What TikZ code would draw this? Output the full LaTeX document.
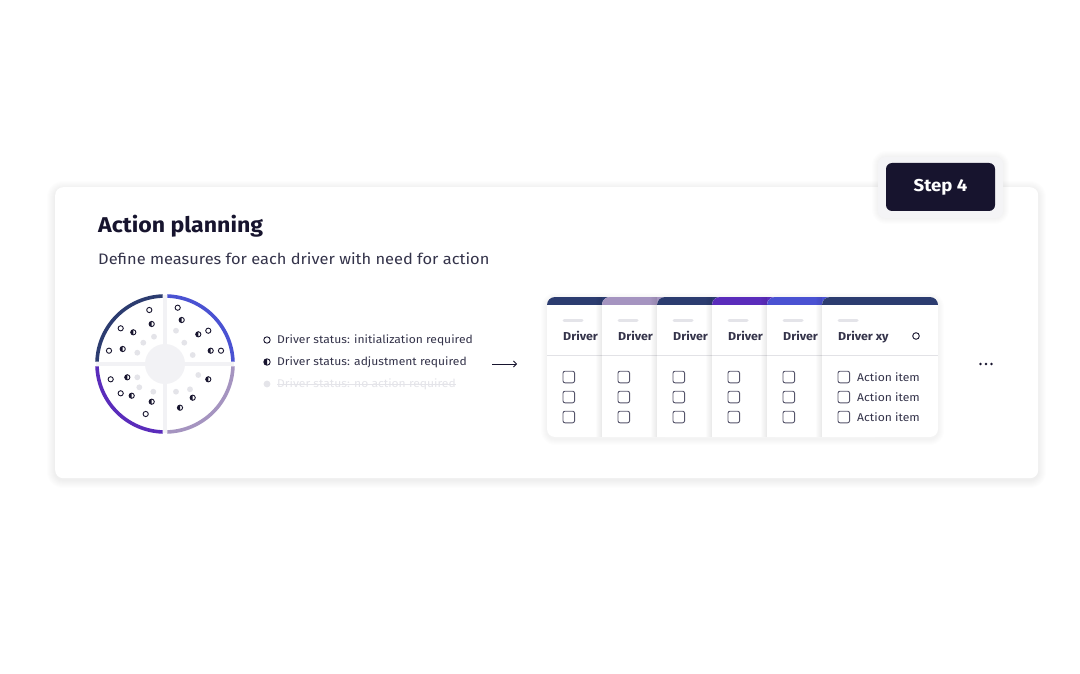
\documentclass[tikz,border=0pt]{standalone}
\usepackage{fontspec}
\setmainfont{Fira Sans}[FakeStretch=1.08]
\usetikzlibrary{fadings,arrows.meta}
\definecolor{navy}{HTML}{2C3C70}
\definecolor{ink}{HTML}{17142E}
\definecolor{lav}{HTML}{A594C0}
\definecolor{purp}{HTML}{5A2CBB}
\definecolor{blu}{HTML}{4A52D2}
\definecolor{txt}{HTML}{34334A}
\definecolor{boxc}{HTML}{55546A}
\definecolor{lgrey}{HTML}{F2F2F5}
\definecolor{dotg}{HTML}{E4E4E9}
\definecolor{divg}{HTML}{E2E2E6}
\definecolor{badgebg}{HTML}{F4F4F6}
\tikzfading[name=fadeleft, left color=transparent!100, right color=transparent!0]
\tikzset{
  opendot/.style={draw=ink, line width=0.9pt, fill=white},
  greydot/.style={fill=dotg},
  cbox/.style={draw=boxc, line width=0.9pt, rounded corners=2pt},
  drv/.style={font=\fontsize{11.5}{12}\selectfont\bfseries, text=txt, inner sep=0pt, anchor=base west},
  legtxt/.style={font=\fontsize{11.2}{12}\selectfont, text=txt, inner sep=0pt, anchor=west},
  itemtxt/.style={font=\fontsize{11.25}{12}\selectfont, text=txt, inner sep=0pt, anchor=west},
}
\newcommand{\halfdot}[3]{%
  \fill[white] (#1,#2) circle (#3);
  \fill[ink] (#1,#2) ++(0,-#3) arc[start angle=270, end angle=90, radius=#3] -- cycle;
  \draw[ink, line width=0.9pt] (#1,#2) circle (#3);}
\begin{document}
\begin{tikzpicture}[x=1pt,y=-1pt]
\useasboundingbox (0,0) rectangle (1080,674);
\fill[white] (0,0) rectangle (1080,674);
% main card shadow
\foreach \s in {1,...,8}
  \fill[black, opacity=0.008, rounded corners=8+\s] (55-\s,187-\s+2) rectangle (1038+\s,478+\s+2);
\node (card) [fill=white, rounded corners=8pt, minimum width=983pt, minimum height=291pt, anchor=north west, inner sep=0pt] at (55,187) {};
% step badge
\foreach \s in {1,...,6}
  \fill[black, opacity=0.008, rounded corners=8+\s] (878-\s,157-\s) rectangle (1003+\s,218+\s);
\fill[badgebg, rounded corners=7] (878,157) rectangle (1003,218);
\node (step) [fill=ink, rounded corners=6pt, minimum width=109pt, minimum height=48pt, inner sep=0pt,
  text=white, font=\fontsize{17.2}{18}\selectfont\bfseries] at (940.5,187) {Step 4};
% title
\node (title) [anchor=base west, inner sep=0pt, text=ink, font=\fontsize{21.4}{23}\selectfont\bfseries] at (98,233) {Action planning};
\node (sub) [anchor=base west, inner sep=0pt, text=txt, font=\fontsize{15.2}{17}\selectfont] at (98,264) {Define measures for each driver with need for action};
% wheel
\coordinate (w) at (165,364);
\draw[lgrey, line width=4.5pt] (96,364) -- (234,364);
\draw[lgrey, line width=4.5pt] (165,295) -- (165,433);
\fill[lgrey] (w) circle (20);
\draw[navy, line width=3.6pt] (w) ++(182:68) arc[start angle=182, end angle=268, radius=68];
\draw[blu, line width=3.6pt] (w) ++(272:68) arc[start angle=272, end angle=358, radius=68];
\draw[lav, line width=3.6pt] (w) ++(2:68) arc[start angle=2, end angle=88, radius=68];
\draw[purp, line width=3.6pt] (w) ++(92:68) arc[start angle=92, end angle=178, radius=68];
% grey dots
\foreach \x/\y in {154/336.7,143.3/342.7,137.3/352.7,176/330.7,184.3/342.7,192.7/355,137.3/377.3,139.3/387.3,153.3/391.7,198.3/375,176/391.7,190/389.3}
  \fill[dotg] (\x,\y) circle (2.9);
% open dots
\foreach \x/\y in {149.3/310,120.7/328.3,109/350.7,177.7/307.7,208.3/330.7,221/350.7,110.7/379.3,120.7/393.3,145.7/414}
  \draw[opendot] (\x,\y) circle (2.6);
% half dots
\foreach \x/\y in {151.7/324,133.3/332.3,122.7/349,181.7/320,198.3/334.3,210.7/350.7,127.3/377.3,131.7/395.7,151.7/401.7,208.3/379.3,192.7/397.7,180/407.7}
  {\halfdot{\x}{\y}{2.6}}
% legend
\draw[opendot] (267,340) circle (3.2);
\node (leg1) [legtxt] at (277,340) {Driver status: initialization required};
\halfdot{267}{362}{3.2}
\node (leg2) [legtxt] at (277,362) {Driver status: adjustment required};
\fill[dotg] (267,384) circle (3.4);
\node (leg3) [legtxt, text=dotg] at (277,384) {Driver status: no action required};
\draw[dotg, line width=0.8pt] (leg3.west) -- (leg3.east);
% arrow
\coordinate (aS) at (492,364);
\coordinate (aE) at (517,364);
\draw[ink, line width=0.8pt, -{Straight Barb[length=3pt,width=6pt]}] (aS) -- (aE);
% cards group shadow
\foreach \s in {1,...,6}
  \fill[black, opacity=0.008, rounded corners=8+\s] (547-\s,297-\s+2) rectangle (938+\s,437+\s+2);
\foreach \i/\c/\lab in {0/navy/Driver,1/lav/Driver,2/navy/Driver,3/purp/Driver,4/blu/Driver,5/navy/{Driver xy}} {
  \pgfmathsetmacro{\xx}{547+55*\i}
  \ifnum\i>0
    \fill[black, opacity=0.09, path fading=fadeleft] (\xx-7,297) rectangle (\xx,437);
  \fi
  \fill[white, rounded corners=8] (\xx,297) rectangle (\xx+116,437);
  \begin{scope}
    \clip[rounded corners=8] (\xx,297) rectangle (\xx+116,437);
    \fill[\c] (\xx,297) rectangle (\xx+116,304.5);
  \end{scope}
  \draw[dotg, line width=3pt, line cap=round] (\xx+17,320.5) -- (\xx+35,320.5);
  \node (drv\i) [drv] at (\xx+16,340) {\lab};
  \draw[divg, line width=0.8pt] (\xx,355) -- (\xx+116,355);
  \foreach \yy [count=\k] in {377,397,417}
    \draw[cbox] (\xx+16,\yy-5.8) rectangle (\xx+27.6,\yy+5.8);
}
\draw[ink, line width=0.9pt] (916,336) circle (3.3);
\foreach \yy/\n in {377/1,397/2,417/3}
  \node (item\n) [itemtxt] at (857,\yy) {Action item};
% ellipsis
\foreach \xx in {980.5,986,991.5}
  \fill[ink] (\xx,364) circle (1.4);
\end{tikzpicture}
\end{document}
